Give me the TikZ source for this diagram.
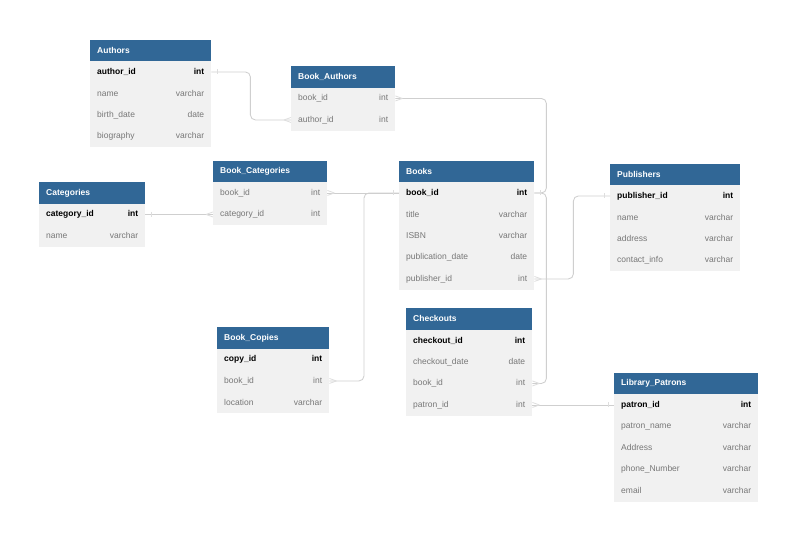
\documentclass[tikz,border=0pt]{standalone}
\usepackage{fontspec}
\setmainfont{Liberation Sans}
\definecolor{hdrblue}{HTML}{316796}
\definecolor{bodygray}{HTML}{F1F1F1}
\definecolor{txtgray}{HTML}{777777}
\definecolor{linegray}{HTML}{CFCFCF}
\definecolor{markgray}{HTML}{DEDEDE}
\tikzset{
  hdr/.style={fill=hdrblue, text=white, font=\fontsize{8.5}{10}\selectfont\bfseries,
    anchor=north west, minimum height=21.5pt, inner xsep=7pt, inner ysep=0pt, align=left},
  rowbox/.style={fill=bodygray, text=txtgray, font=\fontsize{8.5}{10}\selectfont,
    anchor=north west, minimum height=21.5pt, inner xsep=7pt, inner ysep=0pt, align=left},
  conn/.style={draw=linegray, line width=0.85pt, rounded corners=5pt},
  markline/.style={draw=markgray, line width=0.8pt}
}
\newcommand\ertable[6]{%
  \pgfmathsetmacro\tw{#4-14}%
  \node[hdr, text width=\tw pt] (#1) at (#2,#3) {#5};
  \foreach \k/\n/\t [count=\i] in {#6} {
    \node[rowbox, text width=\tw pt] (#1-\i) at (#2,#3+21.5*\i)
      {\ifnum\k=1 \bfseries\color{black}\fi \n\hfill\t};
  }%
}
\newcommand\onemark[2]{\draw[markline] ([xshift=#2]#1) ++(0,-2.5) -- ++(0,5);}
\newcommand\manymark[2]{\draw[markline] ([xshift=#2]#1) -- ([yshift=2.5pt]#1) ([xshift=#2]#1) -- ([yshift=-2.5pt]#1);}
\begin{document}
\begin{tikzpicture}[x=1pt,y=-1pt]
\useasboundingbox[fill=white] (0,0) rectangle (800,541);
\ertable{Authors}{90}{39.5}{121}{Authors}{1/author\_id/int, 0/name/varchar, 0/birth\_date/date, 0/biography/varchar}
\ertable{BookAuthors}{291}{66}{104}{Book\_Authors}{0/book\_id/int, 0/author\_id/int}
\ertable{Categories}{39}{182}{106}{Categories}{1/category\_id/int, 0/name/varchar}
\ertable{BookCategories}{213}{160.5}{114}{Book\_Categories}{0/book\_id/int, 0/category\_id/int}
\ertable{Books}{399}{160.5}{135}{Books}{1/book\_id/int, 0/title/varchar, 0/ISBN/varchar, 0/publication\_date/date, 0/publisher\_id/int}
\ertable{Publishers}{610}{163.5}{130}{Publishers}{1/publisher\_id/int, 0/name/varchar, 0/address/varchar, 0/contact\_info/varchar}
\ertable{BookCopies}{217}{327}{112}{Book\_Copies}{1/copy\_id/int, 0/book\_id/int, 0/location/varchar}
\ertable{Checkouts}{406}{308}{126}{Checkouts}{1/checkout\_id/int, 0/checkout\_date/date, 0/book\_id/int, 0/patron\_id/int}
\ertable{Patrons}{614}{372.5}{144}{Library\_Patrons}{1/patron\_id/int, 0/patron\_name/varchar, 0/Address/varchar, 0/phone\_Number/varchar, 0/email/varchar}
% connectors
\draw[conn] (Authors-1.east) -- ++(39,0) |- (BookAuthors-2.west);
\draw[conn] (BookAuthors-1.east) -| ([xshift=12pt]Books-1.east) -- (Books-1.east);
\draw[conn] (Checkouts-3.east) -| ([xshift=12pt]Books-1.east) -- (Books-1.east);
\draw[conn] (BookCategories-1.east) -- (Books-1.west);
\draw[conn] (BookCopies-2.east) -| ([xshift=-35pt]Books-1.west) -- (Books-1.west);
\draw[conn] (Categories-1.east) -- (BookCategories-2.west);
\draw[conn] (Books-5.east) -- ++(39,0) |- (Publishers-1.west);
\draw[conn] (Checkouts-4.east) -- (Patrons-1.west);
% markers
\onemark{Authors-1.east}{6pt}
\onemark{Books-1.west}{-6pt}
\onemark{Books-1.east}{6pt}
\onemark{Categories-1.east}{6pt}
\onemark{Publishers-1.west}{-6pt}
\onemark{Patrons-1.west}{-6pt}
\manymark{BookAuthors-2.west}{-7pt}
\manymark{BookAuthors-1.east}{7pt}
\manymark{BookCategories-1.east}{7pt}
\manymark{BookCategories-2.west}{-7pt}
\manymark{Books-5.east}{7pt}
\manymark{BookCopies-2.east}{7pt}
\manymark{Checkouts-3.east}{7pt}
\manymark{Checkouts-4.east}{7pt}
\end{tikzpicture}
\end{document}
